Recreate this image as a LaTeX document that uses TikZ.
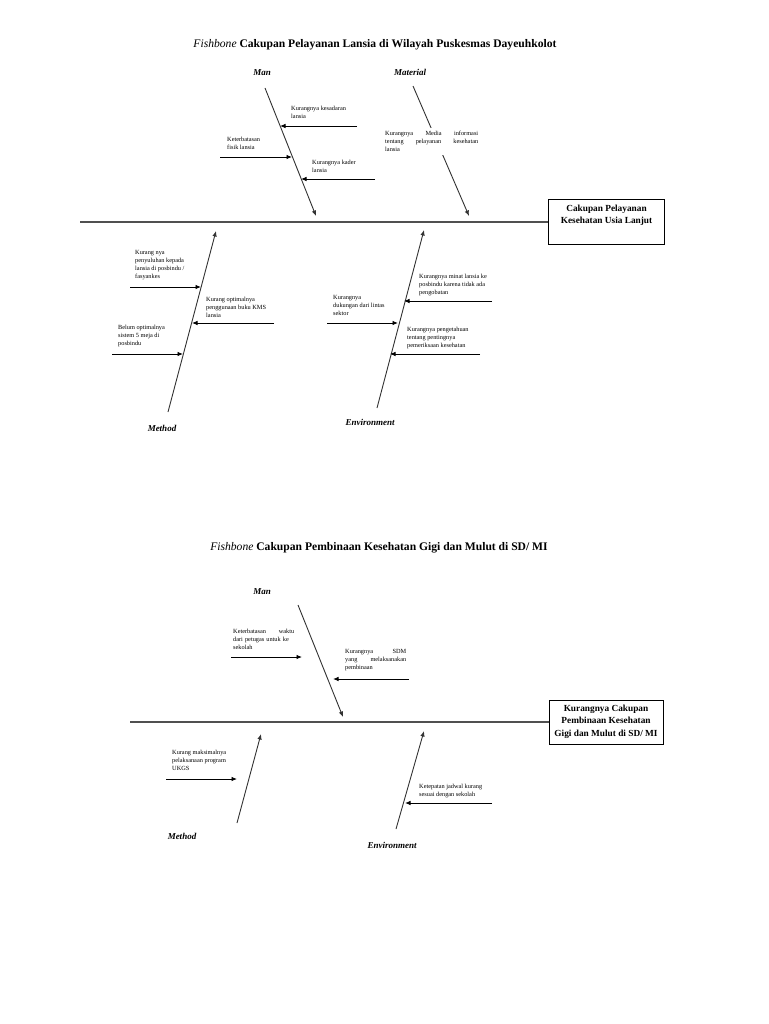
\documentclass[tikz,border=0pt]{standalone}
\usepackage{fontspec}
\setmainfont{Liberation Serif}
\usetikzlibrary{arrows.meta,positioning}
\definecolor{pbone}{RGB}{50,50,50}
\definecolor{pspine}{RGB}{80,80,80}
\tikzset{
  spine/.style={pspine,line width=1.4pt},
  bone/.style={pbone,line width=0.9pt,-{Latex[length=5.5pt,width=4.5pt]}},
  cause/.style={black,line width=0.9pt,-{Latex[length=5.5pt,width=4.5pt]}},
  note/.style={anchor=north west,inner sep=0pt,align=left,
               font=\fontsize{6.3}{8}\selectfont},
  cat/.style={inner sep=0pt,font=\fontsize{9}{10}\selectfont\bfseries\itshape},
  heading/.style={inner sep=0pt,font=\fontsize{11.6}{13}\selectfont},
  effect/.style={draw=black,line width=1pt,minimum width=116pt,minimum height=44pt},
  effecttext/.style={inner sep=0pt,align=center,font=\fontsize{9.3}{12.5}\selectfont\bfseries},
}
\begin{document}
\begin{tikzpicture}[x=1pt,y=-1pt]
  \useasboundingbox (0,0) rectangle (768,1024);
  %%%% Fishbone 1: pelayanan lansia
  \node[heading] (titleA) at (375,45)
     {{\itshape Fishbone}\ \textbf{Cakupan Pelayanan Lansia di Wilayah Puskesmas Dayeuhkolot}};
  \node[effect] (effA) at (606.5,222) {};
  \node[effecttext,below=5pt of effA.north] (effAtxt) {Cakupan Pelayanan\\Kesehatan Usia Lanjut};
  \coordinate (spineA) at (80,222);
  \draw[spine] (spineA) -- (effA.west);
  % Man
  \node[cat] (manA) at (262,73) {Man};
  \coordinate (manAs) at (265,88);
  \coordinate (manAe) at (316,216);
  \draw[bone] (manAs) -- (manAe);
  \node[note] (manA1) at (291,106) {Kurangnya kesadaran\\lansia};
  \coordinate (manA1s) at (357,126);
  \coordinate (manA1e) at (280,126);
  \draw[cause] (manA1s) -- (manA1e);
  \node[note] (manA2) at (227,137) {Keterbatasan\\fisik lansia};
  \coordinate (manA2s) at (220,157);
  \coordinate (manA2e) at (292,157);
  \draw[cause] (manA2s) -- (manA2e);
  \node[note] (manA3) at (312,160) {Kurangnya kader\\lansia};
  \coordinate (manA3s) at (375,179);
  \coordinate (manA3e) at (301,179);
  \draw[cause] (manA3s) -- (manA3e);
  % Material
  \node[cat] (matA) at (410,72) {Material};
  \coordinate (matAs) at (413,86);
  \coordinate (matAe) at (469,216);
  \draw[bone] (matAs) -- (matAe);
  \node[note,fill=white,inner ysep=3pt,text width=93pt] (matA1) at (385,128)
     {Kurangnya\hfill Media\hfill informasi\\tentang\hfill pelayanan\hfill kesehatan\\lansia};
  % Method
  \node[cat] (metA) at (162,428) {Method};
  \coordinate (metAs) at (168,412);
  \coordinate (metAe) at (216,231);
  \draw[bone] (metAs) -- (metAe);
  \node[note] (metA1) at (135,250) {Kurang nya\\penyuluhan kepada\\lansia di posbindu /\\fasyankes};
  \coordinate (metA1s) at (130,287);
  \coordinate (metA1e) at (201,287);
  \draw[cause] (metA1s) -- (metA1e);
  \node[note] (metA2) at (206,297) {Kurang optimalnya\\penggunaan buku KMS\\lansia};
  \coordinate (metA2s) at (274,323);
  \coordinate (metA2e) at (192,323);
  \draw[cause] (metA2s) -- (metA2e);
  \node[note] (metA3) at (118,325) {Belum optimalnya\\sistem 5 meja di\\posbindu};
  \coordinate (metA3s) at (112,354);
  \coordinate (metA3e) at (183,354);
  \draw[cause] (metA3s) -- (metA3e);
  % Environment
  \node[cat] (envA) at (370,422) {Environment};
  \coordinate (envAs) at (377,408);
  \coordinate (envAe) at (424,230);
  \draw[bone] (envAs) -- (envAe);
  \node[note] (envA1) at (419,274) {Kurangnya minat lansia ke\\posbindu karena tidak ada\\pengobatan};
  \coordinate (envA1s) at (492,301);
  \coordinate (envA1e) at (404,301);
  \draw[cause] (envA1s) -- (envA1e);
  \node[note] (envA2) at (333,295) {Kurangnya\\dukungan dari lintas\\sektor};
  \coordinate (envA2s) at (327,323);
  \coordinate (envA2e) at (398,323);
  \draw[cause] (envA2s) -- (envA2e);
  \node[note] (envA3) at (407,327) {Kurangnya pengetahuan\\tentang pentingnya\\pemeriksaan kesehatan};
  \coordinate (envA3s) at (480,354);
  \coordinate (envA3e) at (390,354);
  \draw[cause] (envA3s) -- (envA3e);

  %%%% Fishbone 2: gigi dan mulut
  \node[heading] (titleB) at (379,548)
     {{\itshape Fishbone}\ \textbf{Cakupan Pembinaan Kesehatan Gigi dan Mulut di SD/ MI}};
  \node[effect,minimum width=114pt] (effB) at (606,722) {};
  \node[effecttext,below=5pt of effB.north] (effBtxt) {Kurangnya Cakupan\\Pembinaan Kesehatan\\Gigi dan Mulut di SD/ MI};
  \coordinate (spineB) at (130,722);
  \draw[spine] (spineB) -- (effB.west);
  % Man
  \node[cat] (manB) at (262,592) {Man};
  \coordinate (manBs) at (298,605);
  \coordinate (manBe) at (343,717);
  \draw[bone] (manBs) -- (manBe);
  \node[note,text width=61pt] (manB1) at (233,629) {Keterbatasan\hfill waktu\\dari petugas untuk ke\\sekolah};
  \coordinate (manB1s) at (231,657);
  \coordinate (manB1e) at (302,657);
  \draw[cause] (manB1s) -- (manB1e);
  \node[note,text width=61pt] (manB2) at (345,649) {Kurangnya\hfill SDM\\yang\hfill melaksanakan\\pembinaan};
  \coordinate (manB2s) at (409,679);
  \coordinate (manB2e) at (333,679);
  \draw[cause] (manB2s) -- (manB2e);
  % Method
  \node[cat] (metB) at (182,836) {Method};
  \coordinate (metBs) at (237,823);
  \coordinate (metBe) at (261,734);
  \draw[bone] (metBs) -- (metBe);
  \node[note] (metB1) at (172,750) {Kurang maksimalnya\\pelaksanaan program\\UKGS};
  \coordinate (metB1s) at (166,779);
  \coordinate (metB1e) at (237,779);
  \draw[cause] (metB1s) -- (metB1e);
  % Environment
  \node[cat] (envB) at (392,845) {Environment};
  \coordinate (envBs) at (396,829);
  \coordinate (envBe) at (424,731);
  \draw[bone] (envBs) -- (envBe);
  \node[note] (envB1) at (419,784) {Ketepatan jadwal kurang\\sesuai dengan sekolah};
  \coordinate (envB1s) at (492,803);
  \coordinate (envB1e) at (405,803);
  \draw[cause] (envB1s) -- (envB1e);
\end{tikzpicture}
\end{document}
